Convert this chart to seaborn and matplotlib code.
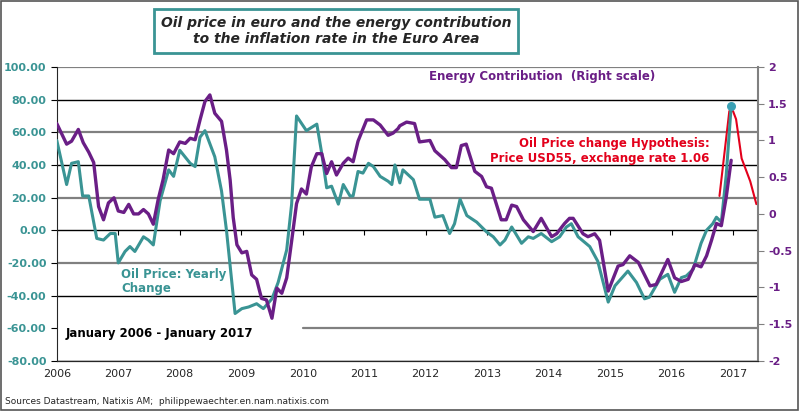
import numpy as np
import pandas as pd
import seaborn as sns
import matplotlib.pyplot as plt

# Oil price yearly change, % (left scale)
oil_t = [2006.0, 2006.16, 2006.24, 2006.35, 2006.42, 2006.52, 2006.65, 2006.76, 2006.87, 2006.95,
         2007.0, 2007.11, 2007.19, 2007.27, 2007.41, 2007.49, 2007.57, 2007.68, 2007.82, 2007.9,
         2008.0, 2008.17, 2008.25, 2008.33, 2008.41, 2008.57, 2008.68, 2008.76, 2008.9, 2009.01,
         2009.12, 2009.25, 2009.36, 2009.5, 2009.6, 2009.74, 2009.82, 2009.9, 2010.06, 2010.23,
         2010.31, 2010.39, 2010.47, 2010.58, 2010.66, 2010.77, 2010.82, 2010.9, 2010.98, 2011.07,
         2011.15, 2011.26, 2011.39, 2011.45, 2011.5, 2011.58, 2011.63, 2011.8, 2011.9, 2012.07,
         2012.15, 2012.28, 2012.39, 2012.47, 2012.56, 2012.67, 2012.83, 2012.99, 2013.1, 2013.21,
         2013.29, 2013.4, 2013.56, 2013.67, 2013.75, 2013.88, 2014.05, 2014.18, 2014.29, 2014.37,
         2014.48, 2014.67, 2014.8, 2014.97, 2015.08, 2015.29, 2015.43, 2015.56, 2015.64, 2015.81,
         2015.94, 2016.05, 2016.16, 2016.24, 2016.35, 2016.48, 2016.57, 2016.67, 2016.73, 2016.81,
         2016.89, 2016.97]
oil_v = [55, 28, 41, 42, 21, 21, -5, -6, -2, -2,
         -20, -13, -10, -13, -4, -6, -9, 18, 37, 33,
         49, 41, 39, 57, 61, 45, 24, 0, -51, -48,
         -47, -45, -48, -42, -32, -12, 16, 70, 61, 65,
         47, 26, 27, 16, 28, 21, 21, 36, 35, 41,
         39, 33, 30, 28, 40, 29, 37, 31, 19, 19,
         8, 9, -2, 4, 19, 9, 5, -1, -4, -9,
         -6, 2, -8, -4, -5, -2, -7, -4, 2, 4,
         -4, -10, -19, -44, -34, -25, -32, -42, -41, -30,
         -27, -38, -29, -28, -24, -8, 0, 4, 8, 5,
         34, 76]

# Energy contribution to inflation, pp (right scale)
en_t = [2006.0, 2006.16, 2006.24, 2006.35, 2006.43, 2006.52, 2006.6, 2006.68, 2006.76, 2006.84,
        2006.93, 2007.0, 2007.09, 2007.17, 2007.25, 2007.33, 2007.41, 2007.49, 2007.57, 2007.65,
        2007.73, 2007.82, 2007.9, 2008.0, 2008.09, 2008.17, 2008.25, 2008.33, 2008.41, 2008.49,
        2008.57, 2008.68, 2008.76, 2008.82, 2008.87, 2008.93, 2009.01, 2009.09, 2009.17, 2009.25,
        2009.33, 2009.41, 2009.5, 2009.58, 2009.66, 2009.74, 2009.82, 2009.9, 2009.98, 2010.06,
        2010.14, 2010.23, 2010.31, 2010.39, 2010.47, 2010.55, 2010.66, 2010.74, 2010.82, 2010.9,
        2011.04, 2011.15, 2011.26, 2011.39, 2011.47, 2011.55, 2011.58, 2011.69, 2011.82, 2011.9,
        2012.07, 2012.15, 2012.31, 2012.42, 2012.5, 2012.58, 2012.66, 2012.8, 2012.91, 2012.99,
        2013.07, 2013.23, 2013.31, 2013.4, 2013.48, 2013.59, 2013.75, 2013.88, 2014.05, 2014.13,
        2014.26, 2014.34, 2014.4, 2014.56, 2014.64, 2014.75, 2014.83, 2014.97, 2015.13, 2015.21,
        2015.32, 2015.46, 2015.65, 2015.75, 2015.94, 2016.05, 2016.16, 2016.27, 2016.38, 2016.48,
        2016.57, 2016.65, 2016.73, 2016.81, 2016.89, 2016.97]
en_v = [1.23, 0.95, 0.99, 1.15, 0.97, 0.84, 0.7, 0.1, -0.08, 0.15,
        0.22, 0.04, 0.02, 0.13, 0.0, 0.0, 0.06, 0.0, -0.14, 0.2,
        0.47, 0.87, 0.82, 0.98, 0.96, 1.03, 1.01, 1.28, 1.53, 1.62,
        1.37, 1.26, 0.87, 0.46, -0.05, -0.42, -0.53, -0.51, -0.83, -0.89,
        -1.15, -1.17, -1.42, -1.01, -1.08, -0.87, -0.37, 0.14, 0.34, 0.27,
        0.64, 0.82, 0.82, 0.55, 0.71, 0.53, 0.69, 0.76, 0.71, 0.99,
        1.28, 1.28, 1.21, 1.07, 1.1, 1.16, 1.2, 1.25, 1.23, 0.98,
        1.0, 0.86, 0.74, 0.63, 0.63, 0.93, 0.95, 0.58, 0.51, 0.37,
        0.35, -0.08, -0.08, 0.12, 0.1, -0.08, -0.24, -0.06, -0.31, -0.27,
        -0.13, -0.06, -0.06, -0.27, -0.31, -0.27, -0.36, -1.05, -0.71, -0.69,
        -0.57, -0.66, -0.98, -0.96, -0.62, -0.87, -0.92, -0.89, -0.69, -0.72,
        -0.57, -0.36, -0.13, -0.16, 0.23, 0.73]

# Hypothesis path (left scale)
hyp_t = [2016.78, 2016.86, 2016.94, 2017.0, 2017.05, 2017.14, 2017.28, 2017.38]
hyp_v = [21, 47, 73, 73, 68, 44, 30, 16]

years = list(range(2006, 2018))
left_ticks = list(range(-80, 101, 20))
right_ticks = [-2, -1.5, -1, -0.5, 0, 0.5, 1, 1.5, 2]

TEAL = "#3a9494"
PURPLE = "#6a1e86"
RED = "#e3001b"

sns.set_style("white")
plt.rcParams['font.family'] = ['DejaVu Sans']

fig = plt.figure(figsize=(8, 4.11), dpi=100)
ax = fig.add_axes([0.071, 0.122, 0.876, 0.715])
ax2 = ax.twinx()

for i, v in enumerate(left_ticks):
    if v == -60:
        ax.plot([2010.0, 2017.4], [v, v], color="#808080", lw=1.6, zorder=0)
        continue
    col = "black" if i % 2 == 0 else "#808080"
    ax.axhline(v, color=col, lw=1.0 if col == "black" else 1.6, zorder=0)
ax.vlines(years, -3, 0, color="black", lw=0.8)

sns.lineplot(x=oil_t, y=oil_v, ax=ax, color=TEAL, lw=2.2, zorder=3)
sns.lineplot(x=hyp_t, y=hyp_v, ax=ax, color=RED, lw=1.5, zorder=2)
ax.scatter([oil_t[-1]], [oil_v[-1]], s=30, color="#3aa0b4", zorder=4)
sns.lineplot(x=en_t, y=en_v, ax=ax2, color=PURPLE, lw=2.4, zorder=3)

ax.set_xlim(2006, 2017.4)
ax.set_ylim(-80, 100)
ax2.set_ylim(-2, 2)
ax.set_xticks(years)
ax.set_xticklabels([str(y) for y in years], fontsize=8)
ax.set_yticks(left_ticks)
ax.set_yticklabels([f"{v:.2f}" for v in left_ticks], color=TEAL, fontsize=8, fontweight="bold")
ax2.set_yticks(right_ticks)
ax2.set_yticklabels([f"{v:g}" for v in right_ticks], color=PURPLE, fontsize=8, fontweight="bold")
ax.tick_params(axis="x", length=0, pad=6)
ax.tick_params(axis="y", length=4, direction="out", left=True, color="black")
ax2.tick_params(axis="y", length=4, direction="out", right=True, color="#808080")
ax.spines["top"].set_visible(False)
ax2.spines["top"].set_visible(False)
ax.spines["right"].set_visible(False)
ax2.spines["left"].set_visible(False)
ax.spines["bottom"].set_color("black")
ax2.spines["right"].set_color("#808080")
ax2.spines["right"].set_linewidth(1.5)
ax.set_xlabel("")
ax.set_ylabel("")
ax2.set_ylabel("")

ax.text(2007.05, -23, "Oil Price: Yearly\nChange", color=TEAL, fontsize=8.5, fontweight="bold",
        va="top", linespacing=1.1)
ax.text(2012.05, 94, "Energy Contribution  (Right scale)", color=PURPLE, fontsize=8.5,
        fontweight="bold", va="center")
ax.text(2016.62, 57, "Oil Price change Hypothesis:\nPrice USD55, exchange rate 1.06", color=RED,
        fontsize=8.5, fontweight="bold", ha="right", va="top", linespacing=1.2)
ax.text(2006.15, -63, "January 2006 - January 2017", color="black", fontsize=8.5,
        fontweight="bold", va="center")

fig.text(0.42, 0.925, "Oil price in euro and the energy contribution\nto the inflation rate in the Euro Area",
         ha="center", va="center", fontsize=10, fontweight="bold", style="italic", linespacing=1.15,
         bbox=dict(boxstyle="square,pad=0.5", fc="white", ec=TEAL, lw=2))
fig.text(0.006, 0.022, "Sources Datastream, Natixis AM;  philippewaechter.en.nam.natixis.com",
         fontsize=6.5, va="center")
fig.patches.append(plt.Rectangle((0.001, 0.002), 0.997, 0.996, transform=fig.transFigure,
                                 fill=False, ec="#555555", lw=1.2))

fig.savefig("out.png", dpi=100)
